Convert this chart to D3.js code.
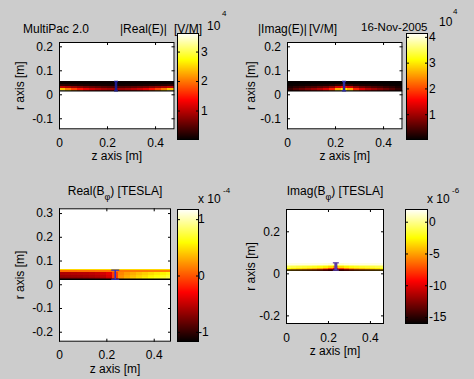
<!DOCTYPE html>
<html><head><meta charset="utf-8">
<script src="https://cdn.jsdelivr.net/npm/d3@7/dist/d3.min.js"></script>
<style>
html,body{margin:0;padding:0;background:#cccccc;}
svg{display:block;}
text{font-family:"Liberation Sans",Arial,Helvetica,sans-serif;fill:#000;}
</style></head><body>
<svg id="chart" width="474" height="379"></svg>
<script>
// ---------------- data ----------------
const zEdges = [0,0.025,0.05,0.075,0.1,0.125,0.15,0.175,0.2,0.225,0.25,0.275,0.3,0.325,0.35,0.375,0.4,0.425,0.45,0.475];
const markerZ = 0.2375;
const xTicks = [0, 0.2, 0.4];

// panel 1 : |Real(E)|  [V/M] (x 10^4)
const realE_r = [0.014,0.022,0.030,0.038,0.046,0.054];
const realE = [
  [3.2,2.6,2.1,1.8,1.5,1.3,1.15,1.05,1.0,0.95,1.0,1.05,1.15,1.3,1.5,1.8,2.1,2.6,3.2],
  [2.4,2.0,1.7,1.45,1.25,1.1,1.0,0.9,0.85,0.8,0.85,0.9,1.0,1.1,1.25,1.45,1.7,2.0,2.4],
  [1.0,0.9,0.8,0.7,0.6,0.55,0.5,0.45,0.42,0.4,0.42,0.45,0.5,0.55,0.6,0.7,0.8,0.9,1.0],
  [0.25,0.22,0.2,0.17,0.15,0.13,0.12,0.11,0.1,0.1,0.1,0.11,0.12,0.13,0.15,0.17,0.2,0.22,0.25],
  [0.05,0.05,0.05,0.05,0.05,0.05,0.05,0.05,0.05,0.05,0.05,0.05,0.05,0.05,0.05,0.05,0.05,0.05,0.05]
];
const realE_cbDomain = [0, 3.63];
const realE_cbTicks = [1, 2, 3];
const realE_yDomain = [-0.146, 0.218];
const realE_yTicks = [-0.1, 0, 0.1, 0.2];
const realE_xMax = 0.481;

// panel 2 : |Imag(E)|  [V/M] (x 10^4)
const imagE_r = [0.014,0.022,0.030,0.038,0.046,0.054];
const imagE = [
  [0.4,0.6,0.8,1.0,1.2,1.4,1.7,2.2,3.3,3.8,3.3,2.2,1.7,1.4,1.2,1.0,0.8,0.6,0.4],
  [0.3,0.5,0.65,0.8,0.95,1.1,1.35,1.75,2.6,3.0,2.6,1.75,1.35,1.1,0.95,0.8,0.65,0.5,0.3],
  [0.15,0.25,0.3,0.4,0.45,0.55,0.65,0.85,1.25,1.5,1.25,0.85,0.65,0.55,0.45,0.4,0.3,0.25,0.15],
  [0.05,0.06,0.08,0.1,0.12,0.14,0.16,0.2,0.3,0.35,0.3,0.2,0.16,0.14,0.12,0.1,0.08,0.06,0.05],
  [0.02,0.02,0.02,0.02,0.02,0.02,0.02,0.02,0.02,0.02,0.02,0.02,0.02,0.02,0.02,0.02,0.02,0.02,0.02]
];
const imagE_cbDomain = [0, 4.15];
const imagE_cbTicks = [1, 2, 3, 4];
const imagE_yDomain = [-0.146, 0.218];
const imagE_yTicks = [-0.1, 0, 0.1, 0.2];
const imagE_xMax = 0.481;

// panel 3 : Real(B_phi) [TESLA] (x 10^-4)
const realB_r = [0.021,0.032,0.043,0.053,0.061,0.066];
const realB = [
  [-0.72,-0.71,-0.70,-0.69,-0.67,-0.65,-0.62,-0.57,-0.48,-0.1,0.22,0.32,0.40,0.47,0.53,0.59,0.65,0.70,0.76],
  [-0.66,-0.65,-0.64,-0.63,-0.61,-0.59,-0.56,-0.52,-0.43,-0.09,0.20,0.29,0.36,0.43,0.48,0.54,0.59,0.64,0.70],
  [-0.58,-0.57,-0.56,-0.55,-0.54,-0.52,-0.49,-0.45,-0.38,-0.08,0.17,0.25,0.31,0.37,0.42,0.47,0.52,0.56,0.61],
  [0.08,0.08,0.08,0.09,0.09,0.09,0.1,0.1,0.1,0.1,0.11,0.11,0.12,0.12,0.12,0.13,0.13,0.14,0.14],
  [0.45,0.45,0.45,0.45,0.45,0.45,0.45,0.45,0.45,0.45,0.45,0.45,0.45,0.45,0.45,0.45,0.45,0.45,0.45]
];
const realB_cbDomain = [-1.18, 1.18];
const realB_cbTicks = [-1, 0, 1];
const realB_yDomain = [-0.242, 0.32];
const realB_yTicks = [-0.2, -0.1, 0, 0.1, 0.2, 0.3];
const realB_xMax = 0.473;

// panel 4 : Imag(B_phi) [TESLA] (x 10^-6)
const imagB_r = [0.015,0.022,0.029,0.036,0.043,0.050];
const imagB = [
  [-4,-4.5,-5,-5.5,-6,-6.5,-7.5,-9,-11,-14,-11,-9,-7.5,-6.5,-6,-5.5,-5,-4.5,-4],
  [-2.5,-3,-3.3,-3.6,-4,-4.4,-5,-6,-7.5,-10,-7.5,-6,-5,-4.4,-4,-3.6,-3.3,-3,-2.5],
  [-1,-1.2,-1.4,-1.6,-1.8,-2,-2.3,-2.8,-3.5,-5,-3.5,-2.8,-2.3,-2,-1.8,-1.6,-1.4,-1.2,-1],
  [0.3,0.2,0.1,0,0,-0.2,-0.4,-0.6,-1,-1.5,-1,-0.6,-0.4,-0.2,0,0,0.1,0.2,0.3],
  [1.5,1.5,1.5,1.5,1.5,1.5,1.5,1.4,1.2,1.0,1.2,1.4,1.5,1.5,1.5,1.5,1.5,1.5,1.5]
];
const imagB_cbDomain = [-16.1, 2.0];
const imagB_cbTicks = [-15, -10, -5, 0];
const imagB_yDomain = [-0.241, 0.306];
const imagB_yTicks = [-0.2, 0, 0.2];
const imagB_xMax = 0.467;

// ---------------- drawing ----------------
const svg = d3.select("#chart");
svg.append("rect").attr("width",474).attr("height",379).attr("fill","#cccccc");

// MATLAB "hot" colormap
function hot(t){
  t = Math.max(0, Math.min(1, t));
  const c = v => Math.max(0, Math.min(1, v));
  return d3.rgb(255*c(t/0.375), 255*c((t-0.375)/0.375), 255*c((t-0.75)/0.25)).toString();
}

const FS = 12;
let clipId = 0;

function drawPanel(p){
  const g = svg.append("g");
  const x = d3.scaleLinear().domain([0, p.xMax]).range([p.plot.l, p.plot.r]);
  const y = d3.scaleLinear().domain(p.yDomain).range([p.plot.b, p.plot.t]);
  const col = d3.scaleSequential(hot).domain(p.cbDomain).clamp(true);

  g.append("rect").attr("x",p.plot.l).attr("y",p.plot.t)
    .attr("width",p.plot.r-p.plot.l).attr("height",p.plot.b-p.plot.t).attr("fill","#ffffff");

  const cid = "clip"+(clipId++);
  g.append("clipPath").attr("id",cid).append("rect")
    .attr("x",p.plot.l).attr("y",p.plot.t)
    .attr("width",p.plot.r-p.plot.l).attr("height",p.plot.b-p.plot.t);
  const cg = g.append("g").attr("clip-path","url(#"+cid+")");

  const cells = [];
  p.values.forEach((row,j)=>row.forEach((v,i)=>cells.push({i,j,v})));
  cg.selectAll("rect.cell").data(cells).join("rect").attr("class","cell")
    .attr("shape-rendering","crispEdges")
    .attr("x",d=>x(zEdges[d.i]))
    .attr("width",d=>x(zEdges[d.i+1])-x(zEdges[d.i])+0.5)
    .attr("y",d=>y(p.rEdges[d.j+1]))
    .attr("height",d=>y(p.rEdges[d.j])-y(p.rEdges[d.j+1])+0.5)
    .attr("fill",d=>col(d.v));

  // inner conductor boundary
  cg.append("line").attr("x1",x(0)).attr("x2",x(p.xMax))
    .attr("y1",y(p.rEdges[0])).attr("y2",y(p.rEdges[0]))
    .attr("stroke","#000").attr("stroke-width",1.3);

  // blue marker
  const mx = x(markerZ), my1 = y(p.rEdges[0]), my2 = y(p.rEdges[p.rEdges.length-1]) + p.capInset;
  const mk = cg.append("g").attr("stroke",p.markerColor).attr("stroke-width",p.markerW).attr("fill","none");
  mk.append("line").attr("x1",mx).attr("x2",mx).attr("y1",my1).attr("y2",my2);
  mk.append("line").attr("x1",mx-p.capW).attr("x2",mx+p.capW).attr("y1",my1).attr("y2",my1).attr("stroke-width",1.2);
  mk.append("line").attr("x1",mx-p.capW).attr("x2",mx+p.capW).attr("y1",my2).attr("y2",my2).attr("stroke-width",1.2);

  const fmt = d => String(d);
  const style = a => { a.select(".domain").remove(); a.selectAll("line").attr("stroke","#000");
    a.selectAll("text").attr("font-size",FS).attr("font-family",'"Liberation Sans",Arial,sans-serif').attr("fill","#000"); a.attr("font-size",null).attr("font-family",null); };

  g.append("g").attr("transform","translate(0,"+p.plot.b+")")
    .call(d3.axisBottom(x).tickValues(xTicks).tickFormat(fmt).tickSizeInner(-3).tickSizeOuter(0).tickPadding(9)).call(style);
  g.append("g").attr("transform","translate(0,"+p.plot.t+")")
    .call(d3.axisTop(x).tickValues(xTicks).tickFormat("").tickSizeInner(-3).tickSizeOuter(0)).call(style);
  g.append("g").attr("transform","translate("+p.plot.l+",0)")
    .call(d3.axisLeft(y).tickValues(p.yTicks).tickFormat(fmt).tickSizeInner(-3).tickSizeOuter(0).tickPadding(6)).call(style);
  g.append("g").attr("transform","translate("+p.plot.r+",0)")
    .call(d3.axisRight(y).tickValues(p.yTicks).tickFormat("").tickSizeInner(-3).tickSizeOuter(0)).call(style);

  g.append("rect").attr("x",p.plot.l+0.5).attr("y",p.plot.t+0.5)
    .attr("width",p.plot.r-p.plot.l-1).attr("height",p.plot.b-p.plot.t-1)
    .attr("fill","none").attr("stroke","#000").attr("stroke-width",1);

  // axis labels
  g.append("text").attr("x",(p.plot.l+p.plot.r)/2).attr("y",p.plot.b+31)
    .attr("text-anchor","middle").attr("font-size",FS).text("z axis [m]");
  g.append("text").attr("transform","translate("+p.ylabX+","+((p.plot.t+p.plot.b)/2)+") rotate(-90)")
    .attr("text-anchor","middle").attr("font-size",FS).text("r axis [m]");

  // colorbar: one 1-px row per screen pixel, colour from the inverted scale
  const yc = d3.scaleLinear().domain(p.cbDomain).range([p.cb.b, p.cb.t]);
  const rows = d3.range(Math.round(p.cb.t), Math.round(p.cb.b));
  g.append("g").selectAll("rect").data(rows).join("rect")
    .attr("shape-rendering","crispEdges")
    .attr("x",p.cb.l).attr("width",p.cb.r-p.cb.l)
    .attr("y",d=>d).attr("height",1)
    .attr("fill",d=>col(yc.invert(d+0.5)));
  g.append("g").attr("transform","translate("+p.cb.r+",0)")
    .call(d3.axisRight(yc).tickValues(p.cbTicks).tickFormat(fmt).tickSizeInner(-3).tickSizeOuter(0).tickPadding(p.cbPad)).call(style);
  g.append("g").attr("transform","translate("+p.cb.l+",0)")
    .call(d3.axisLeft(yc).tickValues(p.cbTicks).tickFormat("").tickSizeInner(-3).tickSizeOuter(0)).call(style);
  g.append("rect").attr("x",p.cb.l+0.5).attr("y",p.cb.t+0.5)
    .attr("width",p.cb.r-p.cb.l-1).attr("height",p.cb.b-p.cb.t-1)
    .attr("fill","none").attr("stroke","#000").attr("stroke-width",1);
  return g;
}

drawPanel({values:realE, rEdges:realE_r, cbDomain:realE_cbDomain, cbTicks:realE_cbTicks,
  yDomain:realE_yDomain, yTicks:realE_yTicks, xMax:realE_xMax,
  plot:{l:59,t:42,r:174.5,b:129.3}, cb:{l:177,t:33,r:199,b:140}, cbPad:2, ylabX:24,
  markerColor:"#1c1c8c", markerW:2.5, capW:2, capInset:0});
drawPanel({values:imagE, rEdges:imagE_r, cbDomain:imagE_cbDomain, cbTicks:imagE_cbTicks,
  yDomain:imagE_yDomain, yTicks:imagE_yTicks, xMax:imagE_xMax,
  plot:{l:287,t:42,r:402.5,b:129.3}, cb:{l:406,t:33,r:428,b:140}, cbPad:1, ylabX:254.5,
  markerColor:"#2a2aa0", markerW:2.5, capW:2, capInset:0});
drawPanel({values:realB, rEdges:realB_r, cbDomain:realB_cbDomain, cbTicks:realB_cbTicks,
  yDomain:realB_yDomain, yTicks:realB_yTicks, xMax:realB_xMax,
  plot:{l:59,t:208.3,r:171,b:341.7}, cb:{l:177,t:209,r:199,b:342}, cbPad:-1, ylabX:24,
  markerColor:"#3030c0", markerW:1.6, capW:4, capInset:1.5});
drawPanel({values:imagB, rEdges:imagB_r, cbDomain:imagB_cbDomain, cbTicks:imagB_cbTicks,
  yDomain:imagB_yDomain, yTicks:imagB_yTicks, xMax:imagB_xMax,
  plot:{l:286,t:209,r:384,b:324}, cb:{l:405,t:209,r:428,b:324}, cbPad:1, ylabX:254.5,
  markerColor:"#5a3aa8", markerW:3, capW:3, capInset:0});

// titles
const T = (x,y,s,anchor,fs) => svg.append("text").attr("x",x).attr("y",y)
  .attr("text-anchor",anchor||"start").attr("font-size",fs||FS).text(s);
T(23,33,"MultiPac 2.0");
T(120,33,"|Real(E)|");
T(174,33,"[V/M]");
T(207,29.5,"10"); T(222,15.5,"4","start",8);

T(258,33,"|Imag(E)|");
T(309,33,"[V/M]");
T(361,31,"16-Nov-2005","start",11.5);
T(439,26,"10"); T(453,14,"4","start",8);

function bTitle(cx, pre){
  const t = svg.append("text").attr("x",cx).attr("y",195).attr("text-anchor","middle").attr("font-size",FS);
  t.append("tspan").text(pre+"(B");
  t.append("tspan").attr("font-size",9).attr("dy",5).text("\u03c6");
  t.append("tspan").attr("dy",-5).text(") [TESLA]");
}
bTitle(115,"Real");
bTitle(335,"Imag");
T(198,203,"x 10"); T(223,193,"-4","start",8);
T(427,203,"x 10"); T(452,193,"-6","start",8);
</script>
</body></html>
